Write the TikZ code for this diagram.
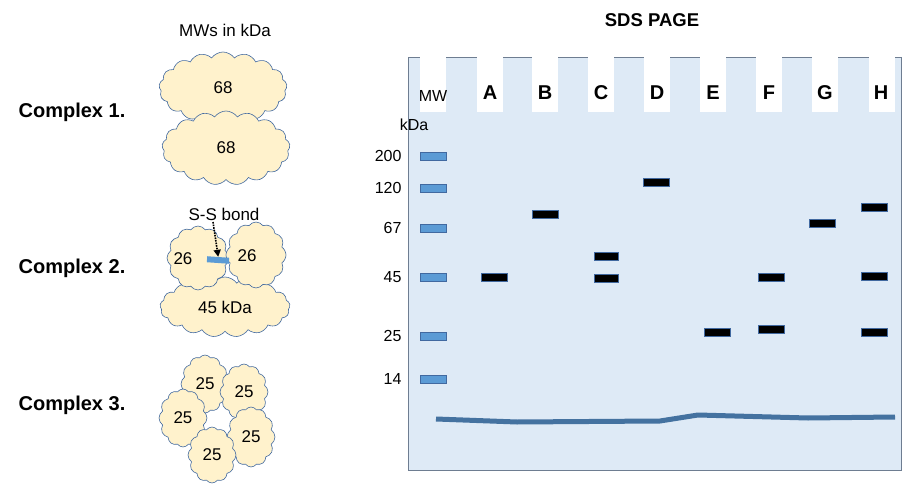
\documentclass[tikz,border=0pt]{standalone}
\usepackage{fontspec}
\setmainfont{Liberation Sans}
\usetikzlibrary{shapes.symbols,arrows.meta}
\definecolor{gel}{RGB}{222,234,246}
\definecolor{gelb}{RGB}{110,125,145}
\definecolor{cream}{RGB}{255,242,204}
\definecolor{cl}{RGB}{65,105,160}
\definecolor{mwb}{RGB}{91,155,213}
\definecolor{front}{RGB}{68,114,160}
\begin{document}
\begin{tikzpicture}[x=1pt,y=-1pt,
  cld/.style={cloud,cloud puffs=17,cloud puff arc=110,cloud ignores aspect,fill=cream,draw=cl,line width=0.6pt,inner sep=0pt,font=\fontsize{17}{17}\selectfont},
  scld/.style={cld,cloud puffs=12},
  txt/.style={font=\fontsize{17}{17}\selectfont},
  lbl/.style={font=\bfseries\fontsize{20}{20}\selectfont},
  well/.style={fill=white,minimum width=26,minimum height=56,anchor=north,inner sep=0pt},
  lane/.style={font=\bfseries\fontsize{20}{20}\selectfont},
  mw/.style={fill=mwb,draw=cl,line width=0.6pt,minimum width=26,minimum height=8,inner sep=0pt},
  band/.style={fill=black,draw=cl,line width=0.6pt,minimum width=26,minimum height=8,inner sep=0pt},
  num/.style={font=\fontsize{16}{16}\selectfont}]
\useasboundingbox (0,0) rectangle (904,486);
% left
\node[txt] (t1) at (225,30) {MWs in kDa};
\node[lbl] (c1) at (72,112) {Complex 1.};
\node[lbl] (c2) at (72,268) {Complex 2.};
\node[lbl] (c3) at (72,405) {Complex 3.};
\node[cld,minimum width=128,minimum height=72] (a1) at (223,88) {68};
\node[cld,minimum width=128,minimum height=74] (a2) at (226,148) {68};
\node[cld,minimum width=130,minimum height=60] (b3) at (225,307) {45 kDa};
\node[scld,minimum width=62,minimum height=64] (b1) at (198,258) {};
\node[txt] at (183,259) {26};
\node[scld,minimum width=60,minimum height=66] (b2) at (256,255) {};
\node[txt] at (247,256) {26};
\node[fill=mwb,minimum width=22,minimum height=6,inner sep=0pt,rotate=-4] (ss) at (218,260) {};
\node[txt] (sst) at (224,214) {S-S bond};
\draw[densely dotted,line width=1.6pt,-{Triangle[length=7pt,width=7pt]}] (213,222) -- (ss.north);
\node[scld,minimum width=48,minimum height=58] (d1) at (205,384) {25};
\node[scld,minimum width=48,minimum height=56] (d2) at (244,392) {25};
\node[scld,minimum width=48,minimum height=58] (d3) at (183,418) {25};
\node[scld,minimum width=48,minimum height=60] (d5) at (251,437) {25};
\node[scld,minimum width=48,minimum height=56] (d4) at (212,455) {25};
% gel
\node[lbl,font=\bfseries\fontsize{18.5}{19}\selectfont] (title) at (652,20) {SDS PAGE};
\draw[fill=gel,draw=gelb,line width=0.8pt] (408,57) rectangle (901,470);
\foreach \n/\x in {mw/433,A/490,B/545,C/601,D/657,E/713,F/769,G/825,H/882}{
  \node[well] (w\n) at (\x,56) {};
}
\node[num] (lmw) at (433,96) {MW};
\foreach \n/\x in {A/490,B/545,C/601,D/657,E/713,F/769,G/825,H/881}{
  \node[lane] (l\n) at (\x,93) {\n};
}
\node[num] (kda) at (414,125) {kDa};
\foreach \v/\y in {200/156,120/188,67/228,45/277,25/336,14/379}{
  \node[num,anchor=east] (n\v) at (405,\y) {\v};
  \node[mw] (m\v) at (433,\y) {};
}
\node[band] (bA) at (494,277) {};
\node[band] (bB) at (545,214) {};
\node[band,minimum width=24] (bC1) at (606,256) {};
\node[band,minimum width=24] (bC2) at (606,278) {};
\node[band] (bD) at (656,182) {};
\node[band] (bE) at (717,332) {};
\node[band] (bF1) at (771,277) {};
\node[band] (bF2) at (771,329) {};
\node[band] (bG) at (822,223) {};
\node[band] (bH1) at (874,207) {};
\node[band] (bH2) at (874,276) {};
\node[band] (bH3) at (874,332) {};
\coordinate (f0) at (436,419);
\coordinate (f1) at (517,422);
\coordinate (f2) at (660,421);
\coordinate (f3) at (698,415);
\coordinate (f4) at (808,418);
\coordinate (f5) at (895,417);
\draw[front,line width=5pt,line join=round] (f0) -- (f1) -- (f2) -- (f3) -- (f4) -- (f5);
\end{tikzpicture}
\end{document}
